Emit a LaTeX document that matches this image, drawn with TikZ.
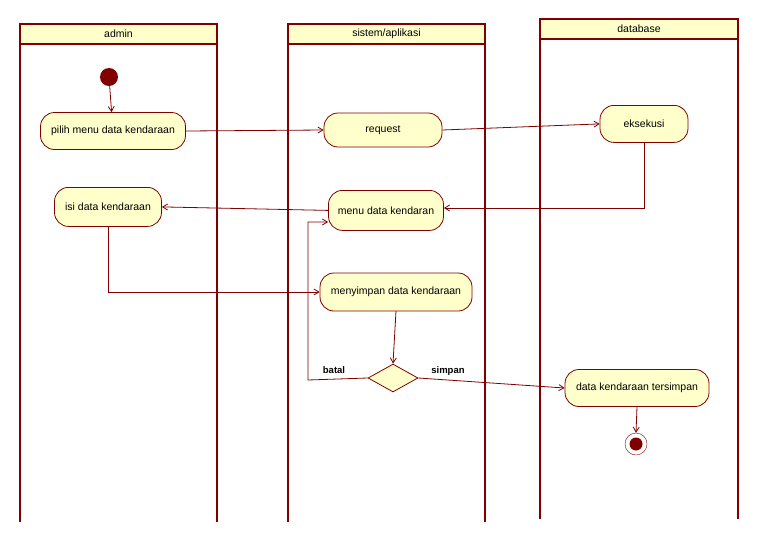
\documentclass[tikz,border=0pt]{standalone}
\usepackage{fontspec}
\setmainfont{Liberation Sans}
\usetikzlibrary{shapes.geometric,arrows.meta}
\definecolor{dr}{HTML}{800000}
\definecolor{fy}{HTML}{FFFFCC}
\begin{document}
\begin{tikzpicture}[x=1pt,y=-1pt,
 font=\fontsize{10.5}{12}\selectfont,
 act/.style={draw=dr,fill=fy,rounded corners=14pt,minimum height=37pt,inner sep=2pt,line width=0.8pt},
 lane/.style={draw=dr,line width=1.4pt},
 hdr/.style={draw=dr,fill=fy,line width=1.4pt},
 ar/.style={draw=dr,line width=0.8pt,-{Straight Barb[length=5pt,width=6pt]}},
 lbl/.style={font=\fontsize{9.5}{10}\selectfont\bfseries}]
\useasboundingbox (0,0) rectangle (760,544);
% lanes
\draw[lane] (20,44) -- (20,522) (217,44) -- (217,522);
\draw[hdr] (20,24) rectangle node{admin} (217,44);
\draw[lane] (288,44) -- (288,522) (485,44) -- (485,522);
\draw[hdr] (288,24) rectangle node{sistem/aplikasi} (485,44);
\draw[lane] (540,39) -- (540,519) (738,39) -- (738,519);
\draw[hdr] (540,19) rectangle node{database} (738,39);
% nodes
\node[circle,fill=dr,minimum size=18pt,inner sep=0] (s) at (109,77) {};
\node[act,minimum width=145pt] (p) at (113,131) {pilih menu data kendaraan};
\node[act,minimum width=118pt,minimum height=34pt] (r) at (383,130) {request};
\node[act,minimum width=88pt,anchor=north] (e) at (644,105) {eksekusi};
\node[act,minimum width=107pt,minimum height=39pt,anchor=north] (i) at (108,187) {isi data kendaraan};
\node[act,minimum width=115pt,minimum height=40pt,anchor=north] (m) at (386,190) {menu data kendaran};
\node[act,minimum width=152pt,minimum height=38pt] (n) at (396,292) {menyimpan data kendaraan};
\node[diamond,draw=dr,fill=fy,line width=0.8pt,minimum width=50pt,minimum height=28pt,inner sep=0] (d) at (393,378) {};
\node[act,minimum width=144pt] (t) at (637,388) {data kendaraan tersimpan};
\node[circle,draw=dr,fill=white,minimum size=22pt,inner sep=0] (f) at (636,444) {};
\node[circle,fill=dr,minimum size=13pt,inner sep=0] at (f) {};
\coordinate (c1) at (644,208);
\coordinate (c2) at (108,292);
\coordinate (c3) at (308,380);
\coordinate (c4) at (308,222);
% edges
\draw[ar] (s) -- (p);
\draw[ar] (p.east) -- (r.west);
\draw[ar] (r.east) -- (e.west);
\draw[ar] (e.south) -- (c1) -- (m.east |- c1);
\draw[ar] (m.west) -- (i.east);
\draw[ar] (i.south) -- (c2) -- (n.west);
\draw[ar] (396,311) -- (d.north);
\draw[ar] (d.west) -- (c3) -- (c4) -- (m.west |- c4);
\draw[ar] (d.east) -- (t.west);
\draw[ar] (t.south) -- (f.north);
\node[lbl] at (334,370) {batal};
\node[lbl] at (448,371) {simpan};
\end{tikzpicture}
\end{document}
